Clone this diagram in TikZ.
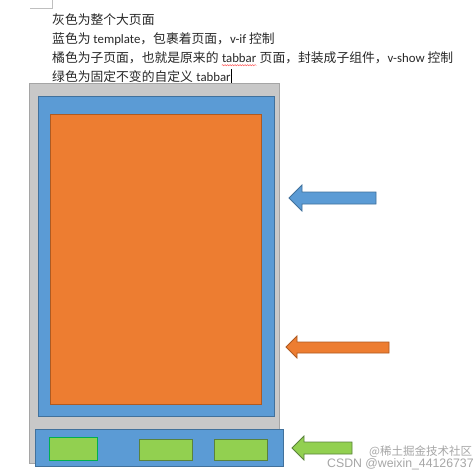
\documentclass[tikz,border=0pt]{standalone}
\usepackage{fontspec}
\setmainfont{Carlito}
\setsansfont{Liberation Sans}
\newfontfamily\cjk{Noto Sans CJK SC}
\usetikzlibrary{decorations.pathmorphing}
\definecolor{pgray}{RGB}{200,200,200}
\definecolor{pgrayb}{RGB}{165,165,165}
\definecolor{pblue}{RGB}{91,155,213}
\definecolor{pblueb}{RGB}{65,113,156}
\definecolor{porange}{RGB}{237,125,49}
\definecolor{porangeb}{RGB}{174,90,33}
\definecolor{pgreen}{RGB}{146,208,80}
\definecolor{pgreenb}{RGB}{90,130,60}
\definecolor{pgreenhi}{RGB}{0,176,80}
\definecolor{txt}{RGB}{40,40,40}
\begin{document}
\begin{tikzpicture}[x=1pt,y=-1pt,
  box/.style={draw,line width=0.8pt,inner sep=0pt,anchor=north west},
  txtline/.style={anchor=base west,inner sep=0pt,text=txt,font=\fontsize{12.8}{14}\selectfont},
  arr/.style={line width=0.8pt,line join=miter},
  squig/.style={draw=red!70,line width=0.4pt,decorate,decoration={snake,amplitude=0.6pt,segment length=2.5pt}},
  wm/.style={anchor=west,inner sep=0pt,text=black!35}]
\useasboundingbox (0,0) rectangle (474,475);
\fill[white] (0,0) rectangle (474,475);
% page corner mark
\draw[black!25,line width=0.5pt] (30,8) -- (52,8) -- (52,0);
% text
\node[txtline] (l1) at (52,24) {{\cjk 灰色为整个大页面}};
\node[txtline] (l2) at (52,43) {{\cjk 蓝色为}\ template{\cjk ，包裹着页面，}v-if\ {\cjk 控制}};
\node[txtline] (l3a) at (52,62) {{\cjk 橘色为子页面，也就是原来的}\hspace*{3pt}};
\node[txtline] (l3b) at (l3a.base east) {tabbar};
\node[txtline] (l3c) at (l3b.base east) {\hspace*{3pt}{\cjk 页面，封装成子组件，}v-show\ {\cjk 控制}};
\node[txtline] (l4a) at (52,81) {{\cjk 绿色为固定不变的自定义}\hspace*{3pt}};
\node[txtline] (l4b) at (l4a.base east) {tabbar};
\path[squig] ([yshift=-3.2pt]l3b.base west) -- ([yshift=-3.2pt]l3b.base east);
\path[squig] ([yshift=-3.2pt]l4b.base west) -- ([yshift=-3.2pt]l4b.base east);
\coordinate (cur) at ([xshift=0.8pt]l4b.base east);
\draw[black,line width=0.9pt] ([yshift=-3.5pt]cur) -- ([yshift=12pt]cur);
% gray page
\node[box,draw=pgrayb,fill=pgray,minimum width=250,minimum height=380] (gray) at (29,83) {};
% blue template
\node[box,draw=pblueb,fill=pblue,minimum width=236,minimum height=320] (blue) at (38,96) {};
% orange page
\node[box,draw=porangeb,fill=porange,minimum width=211,minimum height=290] (orange) at (50,114) {};
% tabbar
\node[box,draw=pblueb,fill=pblue,minimum width=248,minimum height=37] (tab) at (35,429) {};
\node[box,draw=pgreenhi,fill=pgreen,line width=1pt,minimum width=48,minimum height=23] (g1) at (49,437) {};
\node[box,draw=pgreenb,fill=pgreen,minimum width=53,minimum height=21] (g2) at (139,439) {};
\node[box,draw=pgreenb,fill=pgreen,minimum width=53,minimum height=21] (g3) at (214,439) {};
% arrows
\filldraw[arr,draw=pblueb,fill=pblue] (289,198) -- (302,185) -- (302,192) -- (376,192) -- (376,204) -- (302,204) -- (302,211) -- cycle;
\filldraw[arr,draw=porangeb,fill=porange] (286,347) -- (297,336) -- (297,342) -- (389,342) -- (389,353) -- (297,353) -- (297,358) -- cycle;
\filldraw[arr,draw=pgreenb,fill=pgreen] (292,448) -- (304,436) -- (304,442) -- (352,442) -- (352,454) -- (304,454) -- (304,460) -- cycle;
% watermark
\node[wm,font=\fontsize{11.5}{12}\selectfont] (wm1) at (369,452) {{\cjk @稀土掘金技术社区}};
\node[wm,font=\sffamily\fontsize{12.3}{13}\selectfont] (wm2) at (327,464) {CSDN @weixin\_44126737};
\end{tikzpicture}
\end{document}
